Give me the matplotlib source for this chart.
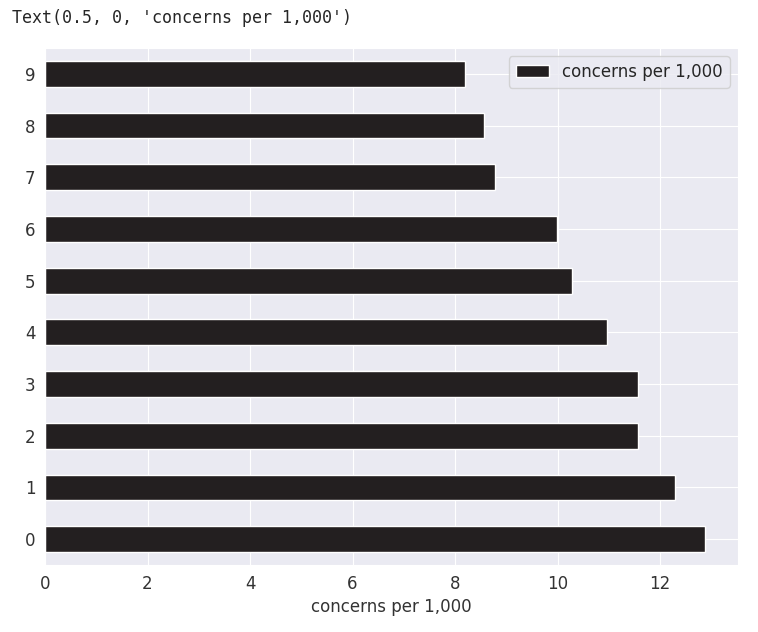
import numpy as np
import matplotlib.pyplot as plt
import seaborn as sns

sns.set_style("darkgrid")
plt.rcParams['font.family'] = ['DejaVu Sans', 'Noto Sans CJK SC']

labels = [str(i) for i in range(10)]
concerns = [12.88, 12.29, 11.57, 11.57, 10.97, 10.28, 9.99, 8.78, 8.57, 8.20]

fig = plt.figure(figsize=(7.58, 6.32), dpi=100)
ax = fig.add_axes([45/758, 1 - 565/632, 693/758, 517/632])
y = np.arange(len(labels))
ax.barh(y, concerns, height=0.5, color="#231f20", label="concerns per 1,000")
ax.set_yticks(y)
ax.set_yticklabels(labels)
ax.set_xlim(0, 13.52)
ax.set_ylim(-0.5, 9.5)
ax.tick_params(labelsize=12, colors="#333333")
ax.set_xlabel("concerns per 1,000", fontsize=12, color="#333333")
ax.legend(loc="upper right", fontsize=12)

fig.text(12/758, 1 - 18/632, "Text(0.5, 0, 'concerns per 1,000')",
         family="DejaVu Sans Mono", fontsize=12, va="center")
fig.text(738/758, 1 - 604/632, "知乎 @冷冻工厂", family=['Noto Sans CJK SC'],
         fontsize=14, color="white", ha="right", va="center", alpha=0.9)

fig.savefig("out.png")
